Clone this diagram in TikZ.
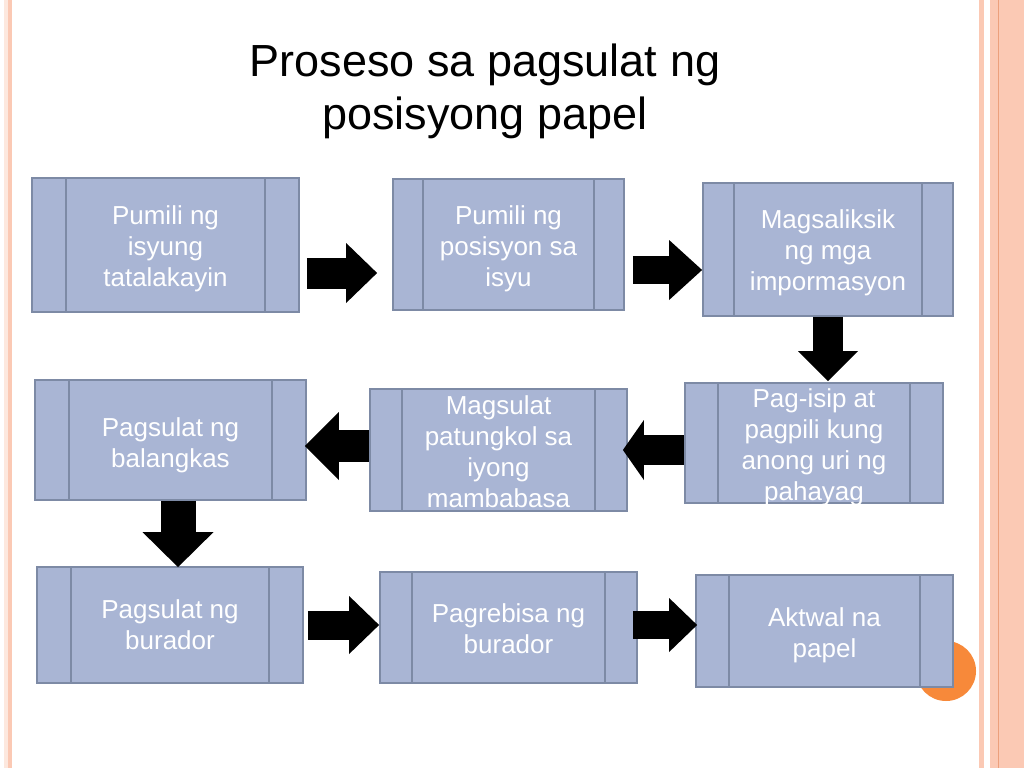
\documentclass[tikz,border=0pt]{standalone}
\usepackage{fontspec}
\setmainfont{Liberation Sans}
\usetikzlibrary{calc,arrows.meta}
\definecolor{boxfill}{RGB}{169,181,212}
\definecolor{boxedge}{RGB}{125,138,165}
\definecolor{salmon}{RGB}{251,201,180}
\definecolor{palesalmon}{RGB}{253,232,222}
\definecolor{rust}{RGB}{236,160,124}
\definecolor{accent}{RGB}{247,137,58}
\tikzset{
	procbox/.style={rectangle, draw=boxedge, fill=boxfill, line width=1.8pt, inner sep=0pt,
		path picture={
			\draw[boxedge, line width=1.8pt] ([xshift=#1]path picture bounding box.north west) -- ([xshift=#1]path picture bounding box.south west);
			\draw[boxedge, line width=1.8pt] ([xshift=-#1]path picture bounding box.north east) -- ([xshift=-#1]path picture bounding box.south east);
		}},
	procbox/.default=32,
	boxtext/.style={align=center, text=white, font=\fontsize{26}{31}\selectfont, inner sep=0pt},
	blockarrow/.style n args={3}{draw=black, line width=#1, -{Triangle[width=#2, length=#3, line width=0pt]}},
}

\begin{document}
\begin{tikzpicture}[x=1pt, y=-1pt]
			%%%%% START %%%%%
			
			\useasboundingbox (0, 0) rectangle (1024, 768);
			\fill[white] (0, 0) rectangle (1024, 768);
			
			\fill[palesalmon] (4, 0) rectangle (8, 768);
			\fill[salmon] (8, 0) rectangle (12, 768);
			\fill[salmon] (979, 0) rectangle (984, 768);
			\fill[salmon] (990, 0) rectangle (1024, 768);
			\fill[rust] (997.5, 0) rectangle (999, 768);
			
			\fill[accent] (946, 671) circle (30);
			
			\node[anchor=north, align=center, font=\fontsize{45}{53}\selectfont, inner sep=0pt] (title) at (485, 44) {Proseso sa pagsulat ng\\posisyong papel};
			
			\node[procbox=34, minimum width=267, minimum height=134] (pumili) at (165.5, 245) {};
			\node[procbox=30, minimum width=231, minimum height=131] (posisyon) at (508.5, 244.5) {};
			\node[procbox=31, minimum width=250, minimum height=133] (saliksik) at (828, 249.5) {};
			
			\node[procbox=33, minimum width=258, minimum height=120] (isip) at (814, 443) {};
			\node[procbox=32, minimum width=257, minimum height=122] (magsulat) at (498.5, 450) {};
			\node[procbox=34, minimum width=271, minimum height=120] (balangkas) at (170.5, 440) {};
			
			\node[procbox=34, minimum width=266, minimum height=116] (burador) at (170, 625) {};
			\node[procbox=32, minimum width=257, minimum height=111] (rebisa) at (508.5, 627.5) {};
			\node[procbox=33, minimum width=257, minimum height=112] (aktwal) at (824.5, 631) {};
			
			\node[boxtext] (pumili-t) at ($(pumili)+(0, 4)$) {Pumili ng\\isyung\\tatalakayin};
			\node[boxtext] (posisyon-t) at ($(posisyon)+(0, 4)$) {Pumili ng\\posisyon sa\\isyu};
			\node[boxtext] (saliksik-t) at ($(saliksik)+(0, 3)$) {Magsaliksik\\ng mga\\impormasyon};
			\node[boxtext] (isip-t) at ($(isip)+(0, 4)$) {Pag-isip at\\pagpili kung\\anong uri ng\\pahayag};
			\node[boxtext] (magsulat-t) at ($(magsulat)+(0, 2)$) {Magsulat\\patungkol sa\\iyong\\mambabasa};
			\node[boxtext] (balangkas-t) at ($(balangkas)+(0, 5)$) {Pagsulat ng\\balangkas};
			\node[boxtext] (burador-t) at (burador) {Pagsulat ng\\burador};
			\node[boxtext] (rebisa-t) at ($(rebisa)+(0, 1)$) {Pagrebisa ng\\burador};
			\node[boxtext] (aktwal-t) at ($(aktwal)+(0, 4)$) {Aktwal na\\papel};
			
			\draw[blockarrow={31pt}{60pt}{31pt}] ($(pumili.east)+(7, 28)$) coordinate (a1) -- ($(a1 -| posisyon.west)+(-15, 0)$);
			\draw[blockarrow={28pt}{60pt}{33pt}] ($(posisyon.east)+(8, 25.5)$) coordinate (a2) -- (a2 -| saliksik.west);
			\draw[blockarrow={30pt}{60pt}{30pt}] (saliksik.south) coordinate (a3) -- ($(a3 |- isip.north)+(0, -1)$);
			
			\draw[blockarrow={30pt}{60pt}{21pt}] ($(isip.west)+(0, 7)$) coordinate (a4) -- ($(a4 -| magsulat.east)+(-5, 0)$);
			\draw[blockarrow={32pt}{68pt}{34pt}] ($(magsulat.west)+(0, -4)$) coordinate (a5) -- ($(a5 -| balangkas.east)+(-2, 0)$);
			\draw[blockarrow={35pt}{71pt}{35pt}] ($(balangkas.south)+(7.5, 0)$) coordinate (a6) -- ($(a6 |- burador.north)+(0, 1)$);
			
			\draw[blockarrow={29pt}{58pt}{30pt}] ($(burador.east)+(4, 0)$) coordinate (a7) -- (a7 -| rebisa.west);
			\draw[blockarrow={28pt}{54pt}{28pt}] ($(rebisa.east)+(-5, -2.5)$) coordinate (a8) -- ($(a8 -| aktwal.west)+(2, 0)$);
			
			%%%%% END %%%%%
\end{tikzpicture}
\end{document}
